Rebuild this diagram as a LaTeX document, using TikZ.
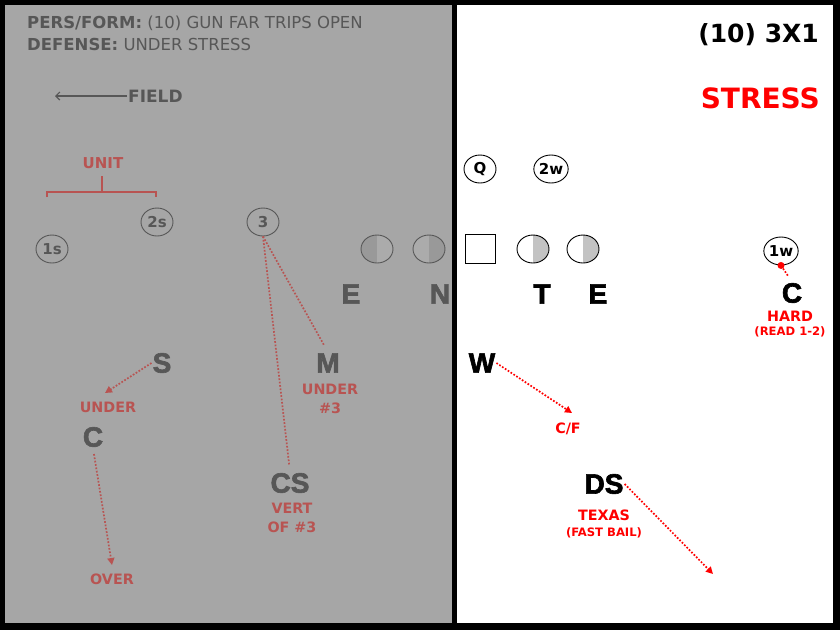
\documentclass[tikz,border=0pt]{standalone}
\usepackage{fontspec}
\setmainfont{DejaVu Sans}
\newfontfamily\heavyfont{Liberation Sans}[BoldFont={Liberation Sans Bold}, BoldFeatures={FakeBold=2.2}]
\usetikzlibrary{arrows.meta, shapes.geometric, positioning}
\definecolor{fadebg}{HTML}{A6A6A6}
\definecolor{fadeink}{HTML}{575757}
\definecolor{fadered}{RGB}{184,84,82}
\definecolor{fadedark}{HTML}{999999}
\definecolor{fadelite}{HTML}{ABABAB}
\definecolor{halfgray}{HTML}{C3C3C3}
\definecolor{hot}{RGB}{255,0,0}
\tikzset{
  man/.style={ellipse, draw, line width=0.9pt, minimum width=32pt, minimum height=28pt,
    inner sep=0pt, font=\bfseries\fontsize{15}{15}\selectfont},
  halfR/.style={man, path picture={\fill[#1] (path picture bounding box.north) rectangle (path picture bounding box.south east);}},
  halfL/.style={man, path picture={\fill[#1] (path picture bounding box.north) rectangle (path picture bounding box.south west);}},
  dfd/.style={font=\heavyfont\bfseries\fontsize{28}{28}\selectfont, inner sep=1pt},
  callout/.style={font=\bfseries\fontsize{14.3}{19}\selectfont, align=center, inner sep=1pt},
  subcall/.style={font=\bfseries\fontsize{11.6}{14}\selectfont, inner sep=1pt},
  rd/.style={line width=1.7pt, dash pattern=on 1.7pt off 1.7pt},
  tip/.style={-{Triangle[length=7pt,width=7pt]}},
}
\begin{document}
\begin{tikzpicture}[x=1pt, y=-1pt]
  \fill[black] (0,0) rectangle (840,630);
  \fill[fadebg] (5,5) rectangle (452,623);
  \fill[white] (457,5) rectangle (833,623);
  % faded half
  \begin{scope}[fadeink]
    \clip (5,5) rectangle (452,623);
    \node[anchor=base west, inner sep=0pt, font=\fontsize{16.5}{16.5}\selectfont] (pers) at (27,28) {\textbf{PERS/FORM:} (10) GUN FAR TRIPS OPEN};
    \node[anchor=base west, inner sep=0pt, font=\fontsize{16.5}{16.5}\selectfont] (dfns) at (27,50) {\textbf{DEFENSE:} UNDER STRESS};
    \node[anchor=west, inner sep=1pt, font=\bfseries\fontsize{17}{17}\selectfont] (field) at (127,96) {FIELD};
    \coordinate (fieldtip) at (55,96);
    \draw[line width=1.2pt, -{Straight Barb[length=4pt,width=8pt]}] (field.west) -- (fieldtip);
    \node[callout, fadered, font=\bfseries\fontsize{15}{15}\selectfont] (unit) at (103,163.5) {UNIT};
    \draw[fadered, line width=1.3pt] (47,197) -- (47,192) -- (156,192) -- (156,197) (102,192) -- (102,176);
    \node[man] (s1) at (52,249) {1s};
    \node[man] (s2) at (157,222) {2s};
    \node[man] (s3) at (263,222) {3};
    \node[halfL=fadedark, fill=fadelite] (le) at (377,249) {};
    \node[halfR=fadedark, fill=fadelite] (ln) at (429,249) {};
    \node[dfd] (de) at (351,294) {E};
    \node[dfd] (dn) at (440,294) {N};
    \node[dfd] (ss) at (162,363) {S};
    \node[dfd] (cl) at (93,437) {C};
    \node[dfd] (mm) at (328,363) {M};
    \node[dfd] (cs) at (290,483) {CS};
    \node[callout, fadered] (under1) at (108,407) {UNDER};
    \node[callout, fadered] (over) at (112,579) {OVER};
    \node[callout, fadered] (under3) at (330,398.5) {UNDER\\\#3};
    \node[callout, fadered] (vert) at (292,517.5) {VERT\\OF \#3};
    \coordinate (stip) at (105,393);
    \coordinate (ctip) at (112,565);
    \draw[rd, tip, fadered] (ss.west) -- (stip);
    \draw[rd, tip, fadered, shorten <=6pt] (cl.south) -- (ctip);
    \draw[rd, fadered, shorten >=6pt] (s3.south) -- (cs.north);
    \draw[rd, fadered, shorten >=8pt] (s3.south) -- (mm.north);
  \end{scope}
  % clear half
  \node[anchor=base east, inner sep=0pt, font=\bfseries\fontsize{25}{25}\selectfont] (front) at (819,42) {(10) 3X1};
  \node[anchor=base east, inner sep=0pt, hot, font=\bfseries\fontsize{28}{28}\selectfont] (calltitle) at (820,108) {STRESS};
  \node[man] (q) at (480,169) {Q};
  \node[man] (w2) at (551,169) {2w};
  \node[draw, line width=0.9pt, minimum width=30pt, minimum height=29pt] (ctr) at (480,249) {};
  \node[halfR=halfgray] (rt) at (533,249) {};
  \node[halfR=halfgray] (re) at (583,249) {};
  \node[man] (w1) at (781,251) {1w};
  \node[dfd] (dt) at (542,294) {T};
  \node[dfd] (dre) at (598,294) {E};
  \node[dfd] (dc) at (792,293) {C};
  \node[callout, hot] (hard) at (790,316) {HARD};
  \node[subcall, hot] (read) at (790,332) {(READ 1-2)};
  \node[circle, fill=hot, inner sep=0pt, minimum size=7pt] (hdot) at (w1.south) {};
  \draw[rd, hot, shorten >=7pt] (hdot) -- (dc.north);
  \node[dfd] (dw) at (482,363) {W};
  \node[callout, hot] (cf) at (568,429) {C/F};
  \node[dfd] (ds) at (604,484) {DS};
  \node[callout, hot] (texas) at (604,515) {TEXAS};
  \node[subcall, hot] (fast) at (604,533) {(FAST BAIL)};
  \coordinate (wtip) at (572,413);
  \coordinate (dstip) at (713,574);
  \draw[rd, tip, hot] (dw.east) -- (wtip);
  \draw[rd, tip, hot] (ds.east) -- (dstip);
\end{tikzpicture}
\end{document}
